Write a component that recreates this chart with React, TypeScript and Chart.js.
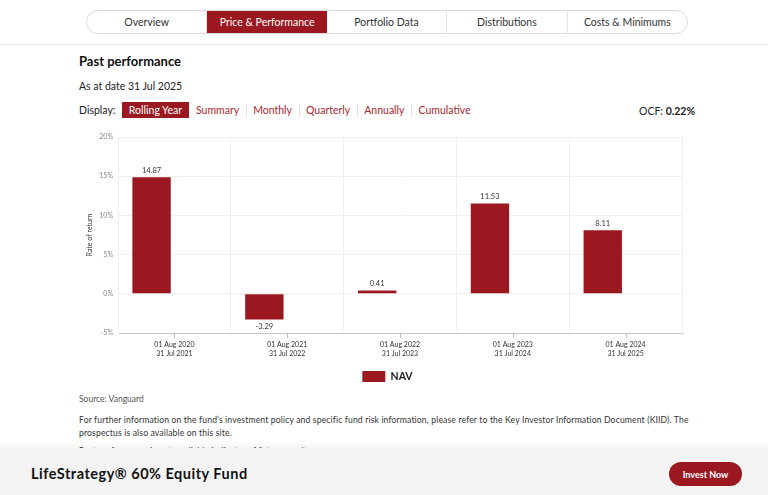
import React, { useEffect, useRef } from "react";
import { Chart, registerables } from "chart.js";

Chart.register(...registerables);

const periodStarts = ["01 Aug 2020", "01 Aug 2021", "01 Aug 2022", "01 Aug 2023", "01 Aug 2024"];
const periodEnds = ["31 Jul 2021", "31 Jul 2022", "31 Jul 2023", "31 Jul 2024", "31 Jul 2025"];
const navReturns = [14.87, -3.29, 0.41, 11.53, 8.11];
const seriesName = "NAV";
const yMin = -5;
const yMax = 20;
const yStep = 5;

const tabs = ["Overview", "Price & Performance", "Portfolio Data", "Distributions", "Costs & Minimums"];
const displayOptions = ["Summary", "Monthly", "Quarterly", "Annually", "Cumulative"];

const RED = "#9b1820";
const FONT = "Lato, 'Noto Sans', sans-serif";

const valueLabels = {
  id: "valueLabels",
  afterLayout(chart: any) {
    if (chart.legend) {
      chart.legend.left += 7;
      chart.legend.right += 7;
    }
  },
  afterDatasetsDraw(chart: any) {
    const ctx = chart.ctx;
    const meta = chart.getDatasetMeta(0);
    ctx.save();
    ctx.font = "7.5px " + FONT;
    ctx.fillStyle = "#333";
    ctx.textAlign = "center";
    meta.data.forEach((bar: any, i: number) => {
      const v = navReturns[i];
      const p = bar.getProps(["x", "y"], true);
      if (v >= 0) {
        ctx.textBaseline = "bottom";
        ctx.fillText(v.toFixed(2), p.x, p.y - 3);
      } else {
        ctx.textBaseline = "top";
        ctx.fillText(v.toFixed(2), p.x, p.y + 3);
      }
    });
    const xs = chart.scales.x;
    ctx.strokeStyle = "#bdbdbd";
    ctx.lineWidth = 1;
    for (let i = 0; i < xs.ticks.length; i++) {
      const px = Math.round(xs.getPixelForTick(i)) + 0.5;
      ctx.beginPath();
      ctx.moveTo(px, xs.top);
      ctx.lineTo(px, xs.top + 5);
      ctx.stroke();
    }
    ctx.restore();
  },
};

function PerfChart() {
  const ref = useRef<HTMLCanvasElement | null>(null);
  useEffect(() => {
    if (!ref.current) return;
    const chart = new Chart(ref.current, {
      type: "bar",
      data: {
        labels: periodStarts.map((s, i) => [s, periodEnds[i]]),
        datasets: [
          {
            label: seriesName,
            data: navReturns,
            backgroundColor: RED,
            borderWidth: 0,
            categoryPercentage: 0.81,
            barPercentage: 0.84,
          },
          {
            label: "",
            data: navReturns.map(() => null),
            backgroundColor: "transparent",
            categoryPercentage: 0.81,
            barPercentage: 0.84,
          },
        ],
      },
      options: {
        animation: false,
        responsive: true,
        maintainAspectRatio: false,
        layout: { padding: { top: 11, right: 19, bottom: 0, left: 0 } },
        plugins: {
          tooltip: { enabled: false },
          legend: {
            position: "bottom",
            labels: {
              boxWidth: 23,
              boxHeight: 11,
              padding: 13,
              color: "#222",
              font: { family: FONT, size: 10.5, weight: "bold" },
              filter: (item: any) => item.datasetIndex === 0,
            },
          },
        },
        scales: {
          x: {
            grid: { color: "#efefef", offset: true, drawTicks: false },
            border: { color: "#c8c8c8" },
            ticks: {
              color: "#333",
              padding: 8,
              maxRotation: 0,
              font: { family: FONT, size: 7 },
            },
            afterFit: (s: any) => {
              s.height = 25;
            },
          },
          y: {
            min: yMin,
            max: yMax,
            grid: { color: "#efefef", drawTicks: false },
            border: { color: "#efefef" },
            ticks: {
              stepSize: yStep,
              padding: 5,
              color: "#888",
              font: { family: FONT, size: 7 },
              callback: (v: any) => v + "%",
            },
            title: {
              display: true,
              text: "Rate of return",
              color: "#333",
              padding: { top: 7, bottom: 0 },
              font: { family: FONT, size: 7 },
            },
            afterFit: (s: any) => {
              s.width = 39;
            },
          },
        },
      },
      plugins: [valueLabels],
    } as any);
    return () => chart.destroy();
  }, []);
  return <canvas ref={ref} />;
}

export default function App() {
  const abs = (o: React.CSSProperties): React.CSSProperties => ({ position: "absolute", ...o });
  return (
    <div
      style={{
        position: "absolute",
        left: 0,
        top: 0,
        width: 768,
        height: 495,
        overflow: "hidden",
        background: "#fff",
        fontFamily: FONT,
        color: "#222",
      }}
    >
      {/* Tabs */}
      <div
        style={abs({
          left: 86,
          top: 10,
          width: 600,
          height: 22,
          border: "1px solid #dcdcdc",
          borderRadius: 12,
          display: "flex",
          overflow: "hidden",
        })}
      >
        {tabs.map((t, i) => (
          <div
            key={t}
            style={{
              flex: 1,
              display: "flex",
              alignItems: "center",
              justifyContent: "center",
              fontSize: 10.5,
              color: i === 1 ? "#fff" : "#333",
              background: i === 1 ? RED : "transparent",
              borderLeft: i > 0 && i !== 2 ? "1px solid #e4e4e4" : "none",
            }}
          >
            {t}
          </div>
        ))}
      </div>
      <div style={abs({ left: 0, top: 44, width: 768, height: 1, background: "#ececec" })} />

      <div style={abs({ left: 79, top: 53, fontSize: 13, fontWeight: 700, color: "#111" })}>Past performance</div>
      <div style={abs({ left: 79, top: 80, fontSize: 10.5, color: "#222" })}>As at date 31 Jul 2025</div>

      <div style={abs({ left: 79, top: 104, fontSize: 10.5, color: "#222" })}>Display:</div>
      <div
        style={abs({
          left: 122,
          top: 102,
          width: 67,
          height: 16,
          background: RED,
          color: "#fff",
          fontSize: 10.5,
          display: "flex",
          alignItems: "center",
          justifyContent: "center",
        })}
      >
        Rolling Year
      </div>
      <div style={abs({ left: 196, top: 104, fontSize: 10.5, color: "#a8272e", display: "flex", alignItems: "center" })}>
        {displayOptions.map((d, i) => (
          <React.Fragment key={d}>
            {i > 0 && <span style={{ width: 1, height: 12, background: "#e0e0e0", margin: "0 6.5px" }} />}
            <span>{d}</span>
          </React.Fragment>
        ))}
      </div>
      <div style={abs({ right: 73, top: 105, fontSize: 10.5, color: "#222" })}>
        OCF: <b>0.22%</b>
      </div>

      <div style={abs({ left: 79, top: 126, width: 622, height: 266 })}>
        <PerfChart />
      </div>

      <div style={abs({ left: 79, top: 394, fontSize: 8.5, color: "#555" })}>Source: Vanguard</div>
      <div
        style={abs({
          left: 79,
          top: 414,
          width: 640,
          fontSize: 8.6,
          letterSpacing: 0.15,
          lineHeight: "13px",
          color: "#333",
          whiteSpace: "nowrap",
        })}
      >
        For further information on the fund’s investment policy and specific fund risk information, please refer to the
        Key Investor Information Document (KIID). The
        <br />
        prospectus is also available on this site.
      </div>
      <div style={abs({ left: 79, top: 446, fontSize: 8.6, letterSpacing: 0.15, color: "#333" })}>
        Past performance is not a reliable indicator of future results.
      </div>

      {/* Footer */}
      <div
        style={abs({
          left: 0,
          top: 448,
          width: 768,
          height: 47,
          background: "#f3f3f3",
          boxShadow: "0 -2px 6px rgba(0,0,0,0.06)",
        })}
      >
        <div style={abs({ left: 31, top: 17, fontSize: 14.5, letterSpacing: 0.5, fontWeight: 700, color: "#111" })}>
          LifeStrategy® 60% Equity Fund
        </div>
        <div
          style={abs({
            left: 669,
            top: 14,
            width: 73,
            height: 24,
            borderRadius: 12,
            background: RED,
            color: "#fff",
            fontSize: 9,
            fontWeight: 700,
            display: "flex",
            alignItems: "center",
            justifyContent: "center",
          })}
        >
          Invest Now
        </div>
      </div>
    </div>
  );
}
